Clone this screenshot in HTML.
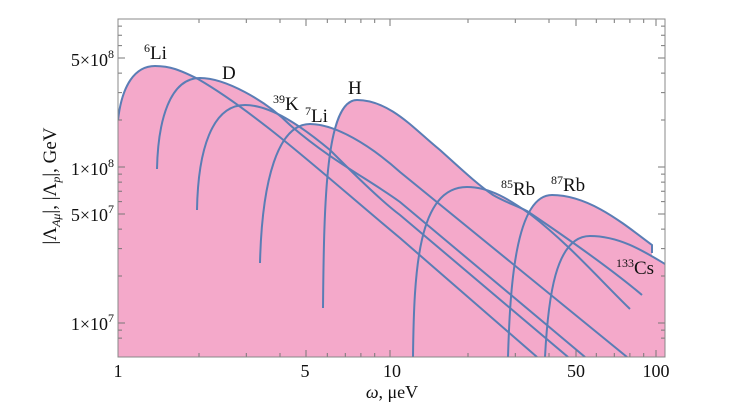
<!DOCTYPE html>
<html><head><meta charset="utf-8"><style>
body{margin:0;background:#fff;}
svg{display:block;font-family:"Liberation Serif",serif;}
</style></head><body>
<svg width="733" height="414" viewBox="0 0 733 414" xmlns="http://www.w3.org/2000/svg">
<defs><clipPath id="c"><rect x="118" y="19" width="547" height="338"/></clipPath></defs>
<g clip-path="url(#c)" fill="#f4a9ca" stroke="none">
<path d="M118,357 L118,120 C122,85 135,66 155,66 C170,66 180,70 198,79 C260,115 330,180 400,238 L537,357 Z"/>
<path d="M157,357 L157,169 C158,120 170,78 200,78 C225,78 265,100 290,125 C330,160 370,180 400,202 L585,357 Z"/>
<path d="M197,357 L197,210 C198,150 212,105 245,105 C270,105 300,125 330,150 C350,170 380,200 400,215 L568,357 Z"/>
<path d="M260,357 L260,263 C262,180 278,124 310,124 C335,124 370,145 400,172 L627,357 Z"/>
<path d="M323,357 L323,308 C324,200 326,100 357,100 C390,100 415,130 440,150 C460,168 478,185 493,195 C505,202 515,205 527,211 C570,240 610,268 642,295 L642,357 Z"/>
<path d="M413,357 C414,270 418,187 467,187 C490,187 510,200 530,214 C570,245 600,280 630,309 L630,357 Z"/>
<path d="M508,357 C510,290 515,195 552,195 C590,195 625,225 652,245 L652,357 Z"/>
<path d="M545,357 C548,300 555,236 590,236 C620,236 645,252 665,264 L665,357 Z"/>
</g>
<g clip-path="url(#c)" fill="none" stroke="#5a7db5" stroke-width="2">
<path d="M118,120 C122,85 135,66 155,66 C170,66 180,70 198,79 C260,115 330,180 400,238 L537,357"/>
<path d="M157,169 C158,120 170,78 200,78 C225,78 265,100 290,125 C330,160 370,180 400,202 L585,357"/>
<path d="M197,210 C198,150 212,105 245,105 C270,105 300,125 330,150 C350,170 380,200 400,215 L568,357"/>
<path d="M260,263 C262,180 278,124 310,124 C335,124 370,145 400,172 L627,357"/>
<path d="M323,308 C324,200 326,100 357,100 C390,100 415,130 440,150 C460,168 478,185 493,195 C505,202 515,205 527,211 C570,240 610,268 642,295"/>
<path d="M413,357 C414,270 418,187 467,187 C490,187 510,200 530,214 C570,245 600,280 630,309"/>
<path d="M508,357 C510,290 515,195 552,195 C590,195 625,225 652,245 L652,253"/>
<path d="M545,357 C548,300 555,236 590,236 C620,236 645,252 665,264"/>
</g>
<g stroke="#777" stroke-width="1" fill="none">
<path d="M199,357v-4M246.3,357v-4M280,357v-4M306,357v-7M327.3,357v-4M345.3,357v-4M360.9,357v-4M374.7,357v-4M390,357v-7M468,357v-4M515.3,357v-4M549,357v-4M576,357v-7M596.3,357v-4M614.3,357v-4M629.9,357v-4M643.7,357v-4M656,357v-7"/>
<path d="M199,19v4M246.3,19v4M280,19v4M306,19v7M327.3,19v4M345.3,19v4M360.9,19v4M374.7,19v4M390,19v7M468,19v4M515.3,19v4M549,19v4M576,19v7M596.3,19v4M614.3,19v4M629.9,19v4M643.7,19v4M656,19v7"/>
<path d="M118,338.1h4M118,330.1h4M118,323h7M118,276h4M118,248.6h4M118,229.1h4M118,214h7M118,201.6h4M118,191.2h4M118,182.1h4M118,174.1h4M118,167h7M118,120h4M118,92.6h4M118,73.1h4M118,58h7M118,45.6h4M118,35.2h4M118,26.1h4"/>
<path d="M665,338.1h-4M665,330.1h-4M665,323h-7M665,276h-4M665,248.6h-4M665,229.1h-4M665,214h-7M665,201.6h-4M665,191.2h-4M665,182.1h-4M665,174.1h-4M665,167h-7M665,120h-4M665,92.6h-4M665,73.1h-4M665,58h-7M665,45.6h-4M665,35.2h-4M665,26.1h-4"/>
</g>
<rect x="118" y="19" width="547" height="338" fill="none" stroke="#888" stroke-width="1"/>
<g font-size="19" fill="#111">
<text x="144" y="59"><tspan font-size="12" dy="-7">6</tspan><tspan dy="7">Li</tspan></text>
<text x="222" y="79">D</text>
<text x="273" y="110"><tspan font-size="12" dy="-7">39</tspan><tspan dy="7">K</tspan></text>
<text x="305" y="122"><tspan font-size="12" dy="-7">7</tspan><tspan dy="7">Li</tspan></text>
<text x="348" y="94">H</text>
<text x="501" y="195"><tspan font-size="12" dy="-7">85</tspan><tspan dy="7">Rb</tspan></text>
<text x="551" y="191"><tspan font-size="12" dy="-7">87</tspan><tspan dy="7">Rb</tspan></text>
<text x="616" y="274"><tspan font-size="12" dy="-7">133</tspan><tspan dy="7">Cs</tspan></text>
</g>
<g font-size="18" fill="#111" text-anchor="end">
<text x="114" y="66">5×10<tspan font-size="12" dy="-8">8</tspan></text>
<text x="114" y="175">1×10<tspan font-size="12" dy="-8">8</tspan></text>
<text x="114" y="221">5×10<tspan font-size="12" dy="-8">7</tspan></text>
<text x="114" y="330">1×10<tspan font-size="12" dy="-8">7</tspan></text>
</g>
<g font-size="18" fill="#111" text-anchor="middle">
<text x="118" y="377">1</text>
<text x="305" y="377">5</text>
<text x="392" y="377">10</text>
<text x="576" y="377">50</text>
<text x="656" y="377">100</text>
<text x="392" y="398"><tspan font-style="italic">ω</tspan>, μeV</text>
<text transform="translate(56,186) rotate(-90)" font-size="19">|Λ<tspan font-size="12" dy="4" font-style="italic">Aμ</tspan><tspan dy="-4">|, |Λ</tspan><tspan font-size="12" dy="4" font-style="italic">p</tspan><tspan dy="-4">|,  GeV</tspan></text>
</g>
</svg>
</body></html>
